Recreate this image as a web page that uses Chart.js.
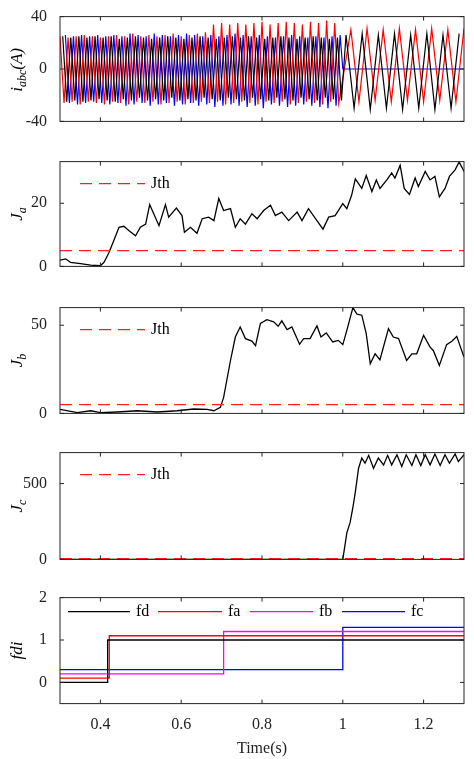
<!DOCTYPE html>
<html>
<head>
<meta charset="utf-8">
<script src="https://cdn.jsdelivr.net/npm/chart.js@4.4.0/dist/chart.umd.min.js"></script>
<style>
  body { margin: 0; background: #fff; }
  canvas { position: absolute; left: 0; }
</style>
</head>
<body>
<canvas id="c1"></canvas>
<canvas id="c2"></canvas>
<canvas id="c3"></canvas>
<canvas id="c4"></canvas>
<canvas id="c5"></canvas>
<script>
'use strict';

// ---- data ----
const xTicks = [0.4, 0.6, 0.8, 1, 1.2];

// current peaks per 50 Hz cycle, 0.3 s .. 1.0 s
const iaPos = [25,24,25,26,25,24,25,26,25,27,25,26,25,26,27,25,26,27,28,34,35,34,35,34,35,36,34,35,36,35,34,36,35,37,35];
const iaNeg = [-26,-25,-27,-25,-26,-27,-25,-26,-27,-25,-26,-25,-27,-26,-25,-27,-26,-25,-26,-25,-27,-26,-25,-26,-27,-25,-26,-25,-27,-26,-25,-26,-27,-25,-26];
const ibPos = [25,24,25,24,25,24,25,23,24,25,24,23,24,25,24,23,24,25,24,23,24,25,24,25,24,23,24,25,24,23,24,25,24,23,24];
const ibNeg = [-25,-24,-25,-24,-23,-24,-25,-23,-24,-22,-24,-23,-24,-22,-24,-23,-24,-22,-23,-24,-22,-23,-24,-22,-23,-24,-22,-23,-24,-22,-23,-24,-22,-23,-24];
const icPos = [26,25,26,25,26,25,26,25,27,26,25,27,26,25,26,27,26,25,26,25,26,27,26,25,26,25,24,25,26,25,24,25,24,25,26];
const icNeg = [-26,-27,-26,-25,-26,-27,-26,-28,-27,-26,-28,-27,-26,-28,-27,-26,-28,-27,-29,-28,-27,-28,-29,-28,-30,-27,-28,-29,-28,-27,-28,-29,-30,-28,-29];
// after 1.0 s (slower cycles)
const iaPos2 = [30,31,30,31,30,31,30,31];
const iaNeg2 = [-25,-24,-25,-24,-25,-24,-25,-24];
const ibPos2 = [26,27,26,27,26,27,26,27];
const ibNeg2 = [-30,-31,-30,-31,-30,-31,-30,-31];

const jaT = [0.300,0.314,0.326,0.351,0.376,0.400,0.409,0.421,0.433,0.446,0.458,0.471,0.487,0.499,0.512,0.522,0.532,0.545,0.561,0.569,0.588,0.602,0.608,0.623,0.639,0.652,0.668,0.681,0.693,0.705,0.722,0.734,0.746,0.759,0.775,0.788,0.804,0.821,0.833,0.849,0.866,0.887,0.899,0.915,0.936,0.951,0.965,0.981,1.000,1.010,1.022,1.031,1.047,1.058,1.072,1.083,1.092,1.109,1.121,1.129,1.142,1.152,1.165,1.179,1.187,1.204,1.216,1.228,1.239,1.253,1.264,1.278,1.288,1.300];
const jaV = [2.0,2.4,1.3,0.9,0.4,0.2,1.3,4.3,8.1,12.4,12.7,11.3,9.7,12.4,13.4,19.6,16.7,12.9,19.6,15.6,18.5,16.1,10.8,12.4,10.5,15.1,15.6,14.5,21.5,17.7,18.3,12.4,15.1,13.4,16.7,15.1,17.7,19.4,16.1,17.2,14.5,17.2,14.5,18.3,14.5,11.8,15.6,16.1,19.9,18.3,22.6,27.7,24.7,28.8,23.7,27.4,24.7,27.4,29.6,28.0,32.0,24.7,22.8,28.0,25.3,30.1,27.4,28.5,22.0,24.7,28.5,30.6,33.1,30.1];

const jbT = [0.300,0.343,0.376,0.400,0.442,0.491,0.541,0.590,0.631,0.664,0.681,0.697,0.705,0.722,0.734,0.746,0.759,0.775,0.784,0.796,0.812,0.829,0.840,0.849,0.862,0.874,0.893,0.903,0.919,0.936,0.946,0.959,0.975,0.989,1.000,1.010,1.025,1.035,1.047,1.058,1.068,1.080,1.092,1.113,1.125,1.138,1.158,1.171,1.183,1.200,1.216,1.224,1.239,1.257,1.270,1.282,1.300];
const jbV = [2.3,0.4,1.5,0.4,0.8,1.5,0.8,1.5,2.5,2.3,1.5,3.4,9.1,30,43.3,49,42.4,41,38.4,51,53.2,51.9,49.4,52.5,47.5,49,39.2,42.4,42.4,49.6,43.3,45.6,40.5,41.4,39,47.1,60,56.3,55.7,45.2,28.1,33.8,30.4,48.1,43.3,42.4,30,33.8,33.8,44.3,37.6,35.7,27.2,39,40.9,43.7,31.9];

const jcT = [0.300,1.000,1.010,1.018,1.025,1.031,1.039,1.047,1.055,1.064,1.076,1.088,1.101,1.111,1.121,1.134,1.146,1.157,1.171,1.181,1.193,1.204,1.216,1.228,1.241,1.253,1.264,1.278,1.286,1.300];
const jcV = [0,0,175,242,343,444,601,668,634,686,601,668,623,686,623,690,612,690,619,690,619,690,623,695,619,690,634,695,645,690];

const jth = 5;

const fdT = [0.3, 0.418, 1.3];
const fdV = [0, 1, 1];
const faT = [0.3, 0.422, 1.3];
const faV = [0.1, 1.1, 1.1];
const fbT = [0.3, 0.705, 1.3];
const fbV = [0.2, 1.2, 1.2];
const fcT = [0.3, 1.0, 1.3];
const fcV = [0.3, 1.3, 1.3];

// ---- helpers ----
function pts(t, v) { return t.map((x, i) => ({ x: x, y: v[i] })); }

// peak-to-peak zigzag: pos/neg peaks alternate every half period
function wave(pos, neg, start, period, off, end) {
  let out = [];
  let half = period / 2;
  for (let k = 0; k < pos.length; k++) {
    let t1 = start + off + k * period;
    let t2 = t1 + half;
    if (t1 <= end) out.push({ x: t1, y: pos[k] });
    if (t2 <= end) out.push({ x: t2, y: neg[k] });
  }
  return out;
}

const serif = '"Liberation Serif", "DejaVu Serif", serif';
const L = 60, R = 464;

const framePlugin = {
  id: 'frame',
  afterDraw(chart) {
    const ctx = chart.ctx, a = chart.chartArea;
    ctx.save();
    ctx.strokeStyle = '#262626';
    ctx.lineWidth = 1;
    ctx.strokeRect(a.left, a.top, a.right - a.left, a.bottom - a.top);
    const xs = chart.scales.x, ys = chart.scales.y;
    ctx.beginPath();
    xTicks.forEach(v => {
      let px = xs.getPixelForValue(v);
      ctx.moveTo(px, a.bottom); ctx.lineTo(px, a.bottom - 4);
      ctx.moveTo(px, a.top); ctx.lineTo(px, a.top + 4);
    });
    ys.ticks.forEach(tk => {
      let py = ys.getPixelForValue(tk.value);
      ctx.moveTo(a.left, py); ctx.lineTo(a.left + 4, py);
      ctx.moveTo(a.right, py); ctx.lineTo(a.right - 4, py);
    });
    ctx.stroke();

    // y label (rotated, with subscript)
    const lab = chart.options.plugins.frame.label;
    if (lab) {
      ctx.translate(16, (a.top + a.bottom) / 2);
      ctx.rotate(-Math.PI / 2);
      ctx.fillStyle = '#000';
      ctx.textBaseline = 'alphabetic';
      ctx.font = 'italic 17px ' + serif;
      let w1 = ctx.measureText(lab.main).width;
      ctx.font = 'italic 12px ' + serif;
      let w2 = ctx.measureText(lab.sub || '').width;
      ctx.font = '17px ' + serif;
      let w3 = ctx.measureText(lab.tail || '').width;
      let x = -(w1 + w2 + w3) / 2;
      ctx.font = 'italic 17px ' + serif;
      ctx.fillText(lab.main, x, 6);
      ctx.font = 'italic 12px ' + serif;
      ctx.fillText(lab.sub || '', x + w1, 10);
      ctx.font = (lab.tailItalic ? 'italic ' : '') + '17px ' + serif;
      ctx.fillText(lab.tail || '', x + w1 + w2, 6);
      ctx.setTransform(1, 0, 0, 1, 0, 0);
    }

    // legend
    const leg = chart.options.plugins.frame.legend;
    if (leg) {
      ctx.restore(); ctx.save();
      ctx.font = '16px ' + serif;
      ctx.textBaseline = 'middle';
      leg.forEach(e => {
        ctx.strokeStyle = e.color;
        ctx.lineWidth = 1.3;
        ctx.setLineDash(e.dash || []);
        ctx.beginPath();
        ctx.moveTo(e.x1, a.top + e.dy); ctx.lineTo(e.x2, a.top + e.dy);
        ctx.stroke();
        ctx.setLineDash([]);
        ctx.fillStyle = '#000';
        ctx.fillText(e.text, e.x2 + 6, a.top + e.dy);
      });
    }
    ctx.restore();
  }
};

function makeChart(id, top, height, datasets, y, opts) {
  const el = document.getElementById(id);
  el.style.top = top + 'px';
  el.width = 474; el.height = height;
  el.style.width = '474px'; el.style.height = height + 'px';
  const last = opts.last;
  new Chart(el, {
    type: 'line',
    data: { datasets: datasets },
    options: {
      responsive: false,
      animation: false,
      events: [],
      layout: { padding: { top: 5, right: 474 - R, bottom: last ? 0 : 5, left: 0 } },
      elements: { point: { radius: 0 }, line: { borderWidth: 1.3, tension: 0 } },
      plugins: {
        legend: { display: false },
        tooltip: { enabled: false },
        frame: { label: opts.label, legend: opts.legend }
      },
      scales: {
        x: {
          type: 'linear', min: 0.3, max: 1.3,
          display: !!last,
          afterBuildTicks: s => { s.ticks = xTicks.map(v => ({ value: v })); },
          grid: { display: false },
          border: { display: false },
          ticks: { color: '#222', font: { family: serif, size: 16 }, padding: 4,
                   callback: v => String(v) },
          title: { display: !!last, text: 'Time(s)', color: '#222',
                   font: { family: serif, size: 16 }, padding: 0 }
        },
        y: {
          min: y.min, max: y.max,
          afterBuildTicks: s => { s.ticks = y.ticks.map(v => ({ value: v })); },
          afterFit: s => { s.width = L; },
          grid: { display: false },
          border: { display: false },
          ticks: { color: '#222', font: { family: serif, size: 16 }, padding: 5 }
        }
      }
    },
    plugins: [framePlugin]
  });
}

const jthLegend = [{ x1: 80, x2: 145, dy: 22, color: '#ff2020', dash: [12, 7], text: 'Jth' }];
function jthLine() {
  return { data: [{ x: 0.3, y: jth }, { x: 1.3, y: jth }], borderColor: '#ff2020', borderDash: [12, 7] };
}

// panel 1: currents
makeChart('c1', 2, 134, [
  { data: wave(ibPos, ibNeg, 0.3, 0.02, 0.0067, 1.0).concat(wave(ibPos2, ibNeg2, 1.0, 0.04, 0.008, 1.3)), borderColor: '#000', borderWidth: 1.2 },
  { data: wave(iaPos, iaNeg, 0.3, 0.02, 0.0, 1.0).concat(wave(iaPos2, iaNeg2, 1.0, 0.04, 0.02, 1.3)), borderColor: '#ff0000', borderWidth: 1.2 },
  { data: wave(icPos, icNeg, 0.3, 0.02, 0.0133, 1.0).concat([{ x: 1.0, y: 0 }, { x: 1.3, y: 0 }]), borderColor: '#0000ff', borderWidth: 1.2 }
], { min: -40, max: 40, ticks: [-40, 0, 40] }, { label: { main: 'i', sub: 'abc', tail: '(A)', tailItalic: true } });

// panels 2-4
makeChart('c2', 147, 134, [jthLine(), { data: pts(jaT, jaV), borderColor: '#000' }],
  { min: 0, max: 33.2, ticks: [0, 20] }, { label: { main: 'J', sub: 'a' }, legend: jthLegend });
makeChart('c3', 293, 135, [jthLine(), { data: pts(jbT, jbV), borderColor: '#000' }],
  { min: 0, max: 60, ticks: [0, 50] }, { label: { main: 'J', sub: 'b' }, legend: jthLegend });
makeChart('c4', 438, 136, [jthLine(), { data: pts(jcT, jcV), borderColor: '#000' }],
  { min: 0, max: 704, ticks: [0, 500] }, { label: { main: 'J', sub: 'c' }, legend: jthLegend });

// panel 5: fault flags
makeChart('c5', 583, 175, [
  { data: pts(fdT, fdV), borderColor: '#000', stepped: 'before' },
  { data: pts(faT, faV), borderColor: '#ff0000', stepped: 'before' },
  { data: pts(fbT, fbV), borderColor: '#ff00ff', stepped: 'before' },
  { data: pts(fcT, fcV), borderColor: '#0000ff', stepped: 'before' }
], { min: -0.5, max: 2, ticks: [0, 1, 2] }, {
  last: true,
  label: { main: 'fdi' },
  legend: [
    { x1: 68, x2: 130, dy: 14, color: '#000', text: 'fd' },
    { x1: 158, x2: 222, dy: 14, color: '#ff0000', text: 'fa' },
    { x1: 250, x2: 313, dy: 14, color: '#ff00ff', text: 'fb' },
    { x1: 342, x2: 405, dy: 14, color: '#0000ff', text: 'fc' }
  ]
});
</script>
</body>
</html>
